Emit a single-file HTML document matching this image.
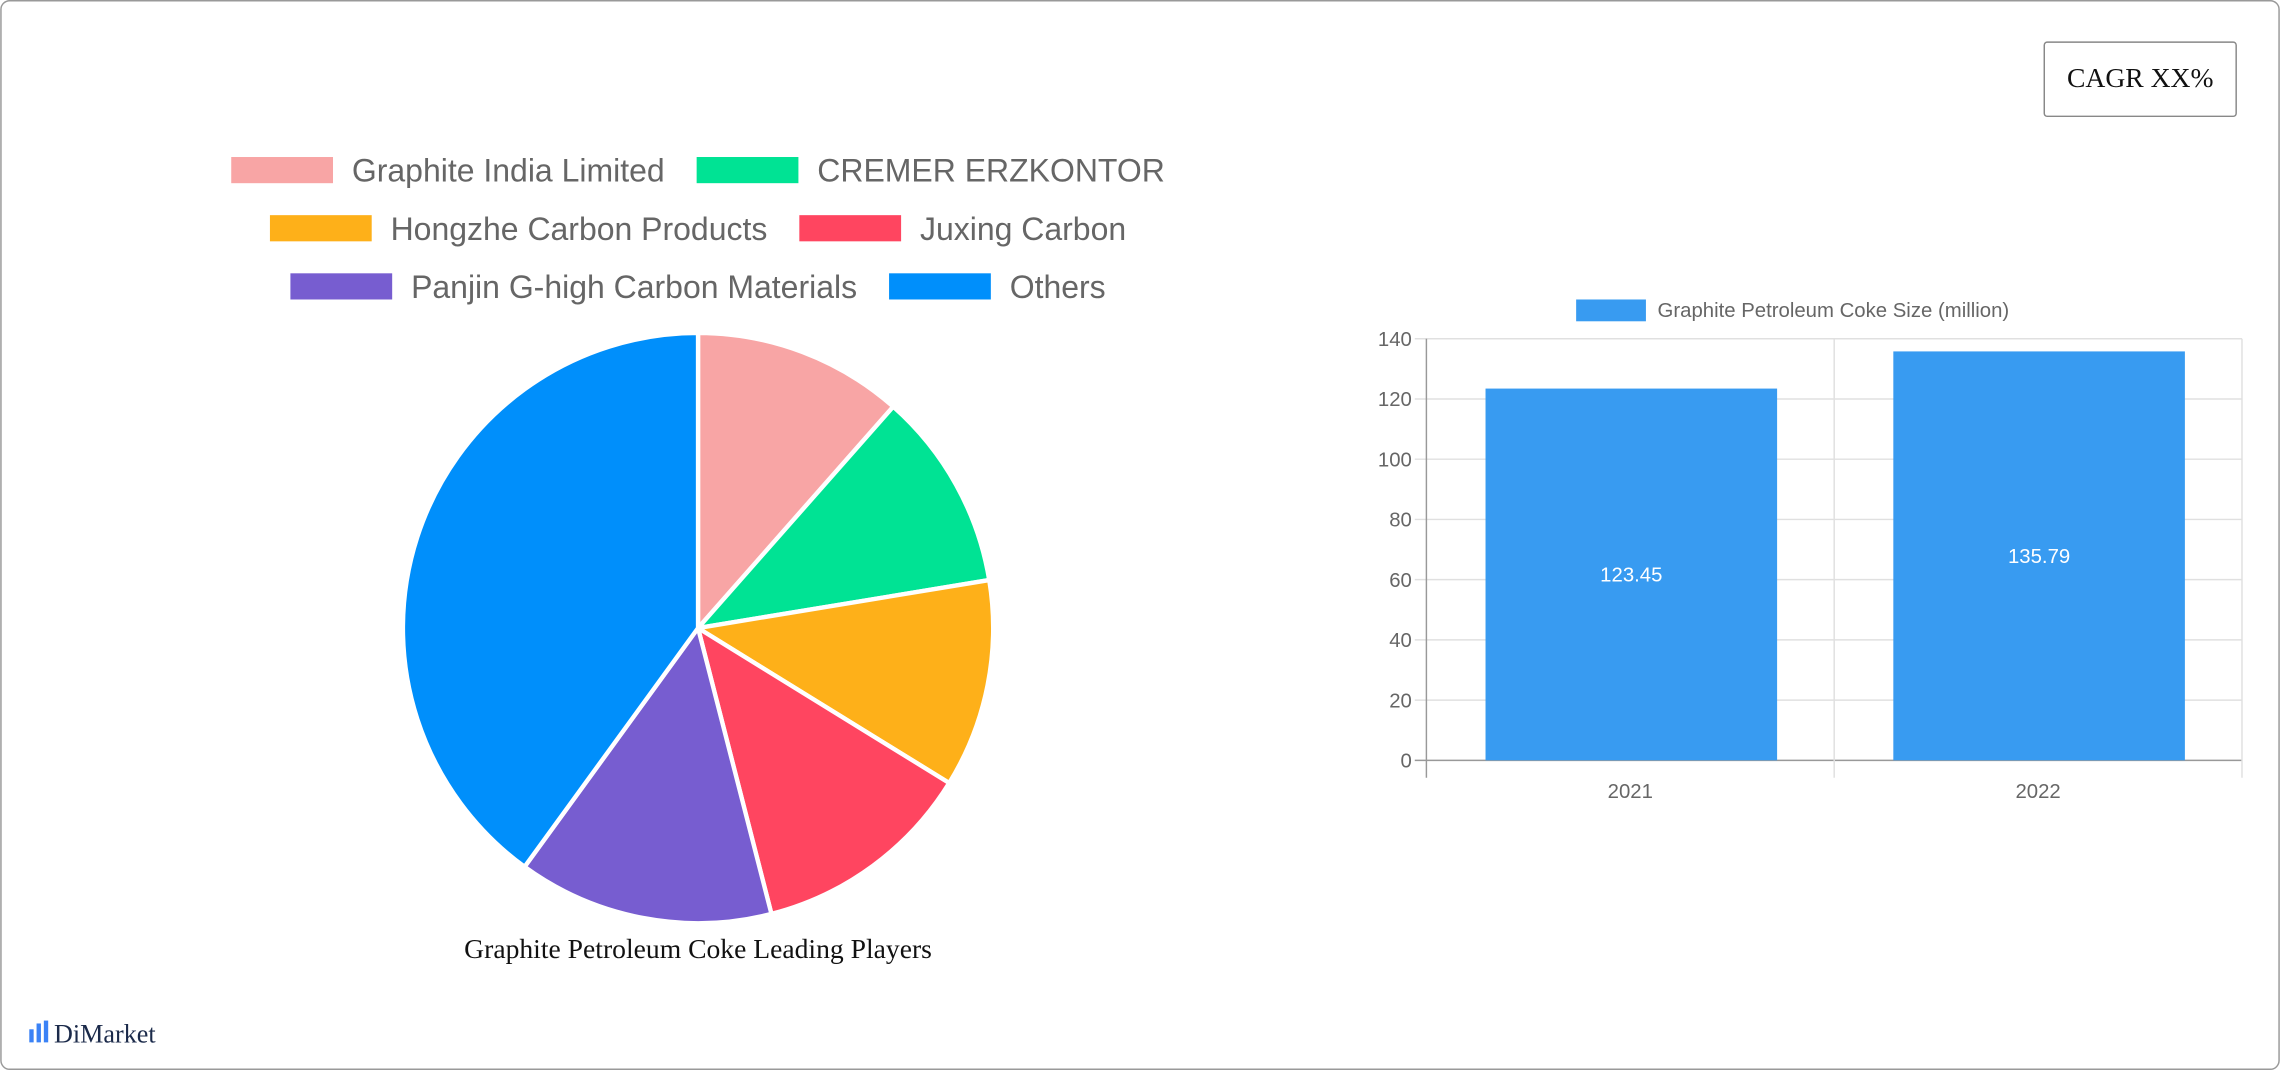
<!DOCTYPE html>
<html><head><meta charset="utf-8"><style>
html,body{margin:0;padding:0;background:#fff;}
svg{display:block;font-family:"Liberation Sans",sans-serif;}
</style></head><body>
<svg id="chart" width="2280" height="1070" viewBox="0 0 1568 736" xmlns="http://www.w3.org/2000/svg">
<rect x="0.5" y="0.5" width="1567" height="735" rx="6" fill="#fff" stroke="#999"/>
<g>
<rect x="1406" y="29" width="132" height="51" rx="2" fill="#fff" stroke="#888"/>
<text x="1472" y="60" text-anchor="middle" font-family="Liberation Serif,serif" font-size="19" fill="#111">CAGR XX%</text>
</g>
<g id="legend"></g>
<g id="pie"></g>
<text x="480" y="659" text-anchor="middle" font-family="Liberation Serif,serif" font-size="19" fill="#111">Graphite Petroleum Coke Leading Players</text>
<g id="bar"></g>
<g>
<rect x="20" y="708" width="3" height="9" fill="#3b82f6"/><rect x="25" y="704" width="3" height="13" fill="#3b82f6"/><rect x="30" y="702" width="3" height="15" fill="#3b82f6"/>
<text x="37" y="717" font-family="Liberation Serif,serif" font-size="18" fill="#1b2a4a">DiMarket</text>
</g>
</svg>
<script>
const pieLabels=["Graphite India Limited","CREMER ERZKONTOR","Hongzhe Carbon Products","Juxing Carbon","Panjin G-high Carbon Materials","Others"];
const pieValues=[11.5,10.9,11.4,12.2,14.0,40.0];
const pieColors=["#f8a5a5","#00e394","#feb019","#ff4560","#775dd0","#008ffb"];
const barCategories=["2021","2022"];
const barValues=[123.45,135.79];
const yTicks=[0,20,40,60,80,100,120,140];
const NS="http://www.w3.org/2000/svg";
function mk(tag,attrs,parent){const e=document.createElementNS(NS,tag);for(const k in attrs)e.setAttribute(k,attrs[k]);parent.appendChild(e);return e;}
// legend
const leg=document.getElementById('legend');
const rows=[[0,1],[2,3],[4,5]];
rows.forEach((r,ri)=>{
  const y=117+ri*40;
  const groups=r.map(i=>{
    const g=mk('g',{},leg);
    
    
    mk('rect',{x:0,y:y-9,width:70,height:18,fill:pieColors[i]},g);
    const t=mk('text',{x:83,y:y+8,'font-size':22,fill:'#666'},g);t.textContent=pieLabels[i];
    return {g,w:83+t.getComputedTextLength()};
  });
  const total=groups.reduce((a,b)=>a+b.w,0)+(groups.length-1)*22;
  let x=480-total/2;
  groups.forEach(it=>{it.g.setAttribute('transform','translate('+x+',0)');x+=it.w+22;});
});
// pie
const pie=document.getElementById('pie');
const cx=480,cy=432,R=203;const sum=pieValues.reduce((a,b)=>a+b,0);
let a0=0;
pieValues.forEach((v,i)=>{
  const a1=a0+v/sum*Math.PI*2;
  const p=(a)=>[cx+R*Math.sin(a),cy-R*Math.cos(a)];
  const [x0,y0]=p(a0),[x1,y1]=p(a1);
  const path=mk('path',{d:`M${cx},${cy}L${x0},${y0}A${R},${R} 0 ${a1-a0>Math.PI?1:0} 1 ${x1},${y1}Z`,fill:pieColors[i],stroke:'#fff','stroke-width':3},pie);
  
  
  a0=a1;
});
// bar
const bar=document.getElementById('bar');
const x0=981,x1=1542,yb=523,yt=233,vmax=140;
const Y=v=>yb-(v/vmax)*(yb-yt);
const cw=(x1-x0)/barCategories.length;
yTicks.forEach(t=>{
  mk('line',{x1:x0-8,x2:x1,y1:Y(t),y2:Y(t),stroke:t===0?'#999':'#e0e0e0'},bar);
  const tx=mk('text',{x:x0-10,y:Y(t)+5,'text-anchor':'end','font-size':14,fill:'#666'},bar);tx.textContent=t;
  
  
});
for(let i=0;i<=barCategories.length;i++){mk('line',{x1:x0+i*cw,x2:x0+i*cw,y1:yt,y2:yb+12,stroke:i===0?'#999':'#e0e0e0'},bar);}
barCategories.forEach((c,i)=>{
  const bx=x0+i*cw+cw*0.145,bw=cw*0.715;
  const r=mk('rect',{x:bx,y:Y(barValues[i]),width:bw,height:yb-Y(barValues[i]),fill:'#389bf1'},bar);
  
  
  const lv=mk('text',{x:bx+bw/2,y:(Y(barValues[i])+yb)/2+5,'text-anchor':'middle','font-size':14,fill:'#fff'},bar);lv.textContent=barValues[i];
  const lc=mk('text',{x:x0+i*cw+cw/2,y:549,'text-anchor':'middle','font-size':14,fill:'#666'},bar);lc.textContent=c;
  
  
});
const lg=mk('g',{},bar);


mk('rect',{x:1084,y:206,width:48,height:15,fill:'#389bf1'},lg);
const lt=mk('text',{x:1140,y:218,'font-size':14,fill:'#666'},lg);lt.textContent="Graphite Petroleum Coke Size (million)";
</script>
</body></html>
